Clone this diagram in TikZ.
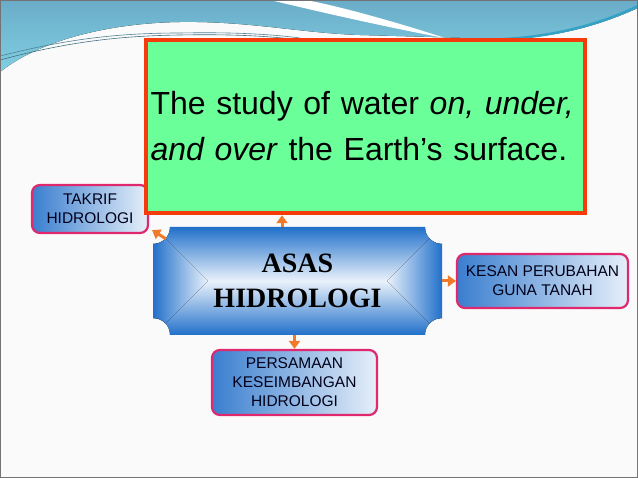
\documentclass[tikz,border=0pt]{standalone}
\usepackage{fontspec}
\setmainfont{Liberation Serif}
\setsansfont{Liberation Sans}
\usetikzlibrary{arrows.meta}
\definecolor{seablue}{HTML}{6AACC8}
\definecolor{sealight}{HTML}{80CFE2}
\definecolor{seaedge}{HTML}{34A2C6}
\definecolor{studygreen}{HTML}{6BFF9A}
\definecolor{studyred}{HTML}{F53B0C}
\definecolor{plaqueblue}{HTML}{2170CA}
\definecolor{plaquelight}{HTML}{EAF2FB}
\definecolor{boxblue}{HTML}{3A7ECF}
\definecolor{boxpale}{HTML}{E6EFF9}
\definecolor{boxrim}{HTML}{E0286E}
\definecolor{arroworange}{HTML}{F07A2A}
\begin{document}
\begin{tikzpicture}[x=1pt,y=-1pt,
    topic/.style={rounded corners=8pt,draw=boxrim,line width=2.2pt,
      left color=boxblue,right color=boxpale,text=black!90!blue,
      font=\sffamily\fontsize{15.5}{19}\selectfont,align=center,inner sep=0pt},
    link/.style={draw=arroworange,line width=3pt,-{Triangle[length=8pt,width=11pt]}}]
    \useasboundingbox (0,0) rectangle (638,478);
    \fill[black!2] (0,0) rectangle (638,478);
    % wave at the top
    \fill[top color=seablue,bottom color=sealight] (0,0) -- (638,0) -- (638,8)
      .. controls (600,25) and (560,37) .. (505,39) -- (360,35)
      .. controls (300,33) and (250,21) .. (180,22)
      .. controls (110,23) and (40,40) .. (0,72) -- cycle;
    \fill[white] (270,0) .. controls (320,12) and (390,28) .. (445,38)
      .. controls (390,20) and (330,4) .. (305,0) -- cycle;
    \draw[seaedge,line width=2.5pt] (505,39) .. controls (560,36) and (605,22) .. (638,6);
    \draw[black!35!seablue,line width=0.6pt] (0,60) .. controls (60,44) and (110,36) .. (180,35)
      .. controls (230,34) and (270,36) .. (300,40);
    \draw[black!25!seablue,line width=0.6pt] (0,56) .. controls (60,41) and (110,33) .. (180,33)
      .. controls (230,32) and (270,34) .. (300,38);
    % side topics
    \node[topic,minimum width=116pt,minimum height=48pt] (takrif) at (90,209) {TAKRIF\\HIDROLOGI};
    \node[topic,minimum width=171pt,minimum height=54pt] (kesan) at (542.5,281) {KESAN PERUBAHAN\\GUNA TANAH};
    \node[topic,minimum width=165pt,minimum height=65pt] (persamaan) at (294.5,382.5) {PERSAMAAN\\KESEIMBANGAN\\HIDROLOGI};
    % definition box
    \node[draw=studyred,fill=studygreen,line width=4.5pt,minimum width=439pt,minimum height=173pt,
      text width=430pt,align=left,inner sep=2pt,font=\sffamily\fontsize{32}{46}\selectfont]
      (study) at (365.5,126.5) {The study of water \textit{on, under,}\\\textit{and over} the Earth’s surface.};
    % centre plaque
    \begin{scope}
      \clip (170,227) -- (425,227) .. controls (425,236.4) and (432.6,244) .. (442,244)
        -- (442,318) .. controls (432.6,318) and (425,325.6) .. (425,335)
        -- (170,335) .. controls (170,325.6) and (162.6,318) .. (153,318)
        -- (153,244) .. controls (162.6,244) and (170,236.4) .. (170,227) -- cycle;
      \fill[top color=plaqueblue,bottom color=plaqueblue,middle color=plaquelight] (153,227) rectangle (442,335);
      \fill[left color=plaqueblue,right color=plaquelight] (153,226) -- (208,281) -- (153,336) -- cycle;
      \fill[left color=plaquelight,right color=plaqueblue] (442,226) -- (387,281) -- (442,336) -- cycle;
    \end{scope}
    \node[font=\bfseries\fontsize{28}{35}\selectfont,align=center,minimum width=289pt,minimum height=108pt]
      (asas) at (297.5,281) {ASAS\\HIDROLOGI};
    % arrows
    \draw[link] ([xshift=-15.5pt]asas.north) -- ([xshift=-15.5pt]asas.north |- study.south);
    \draw[link] ([shift={(13,12)}]asas.north west) -- ([shift={(3,-4)}]takrif.south east);
    \draw[link] (asas.east) -- (kesan.west);
    \draw[link] (asas.south -| persamaan.north) -- (persamaan.north);
    \draw[black!55,line width=1pt] (0.5,0.5) rectangle (637.5,477.5);
\end{tikzpicture}
\end{document}
